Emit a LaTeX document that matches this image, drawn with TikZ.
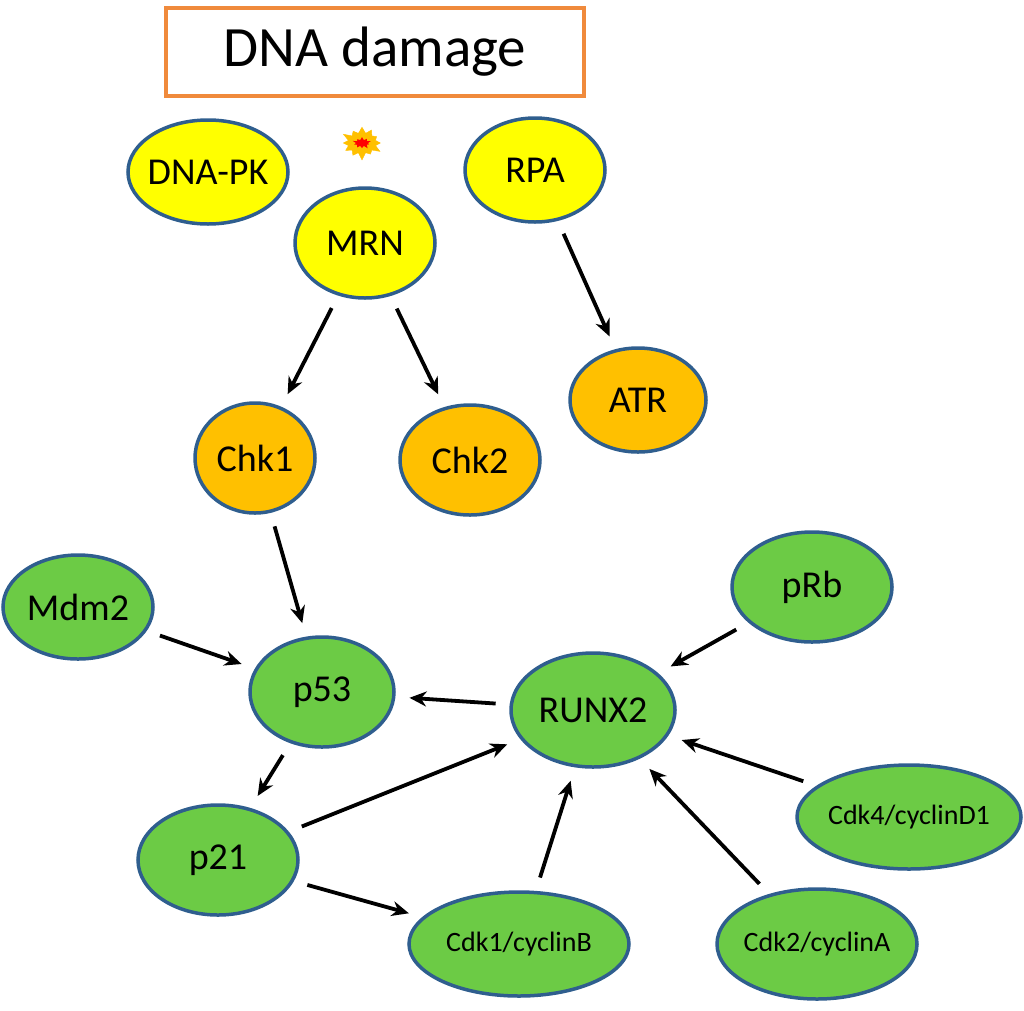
\documentclass[tikz,border=0pt]{standalone}
\usepackage{fontspec}
\setmainfont{Carlito}
\usetikzlibrary{shapes.geometric,shapes.symbols,arrows.meta}
\definecolor{yel}{HTML}{FFFF00}
\definecolor{org}{HTML}{FFC000}
\definecolor{grn}{HTML}{6CCB45}
\definecolor{bord}{HTML}{2F5E8E}
\definecolor{boxo}{HTML}{F08A3C}
\begin{document}
\begin{tikzpicture}[x=1pt,y=-1pt,
  el/.style={ellipse,draw=bord,line width=3.5pt,inner sep=-12pt,font=\fontsize{38}{38}\selectfont},
  sm/.style={font=\fontsize{28}{28}\selectfont},
  arr/.style={-{Stealth[length=17pt,width=15pt]},line width=3.8pt,shorten <=#1,shorten >=#1},
  arr/.default=14pt]
\useasboundingbox (0,0) rectangle (1024,1010);
\node[draw=boxo,line width=4.5pt,minimum width=418pt,minimum height=88pt,font=\fontsize{57}{57}\selectfont] (dd) at (375,52) {DNA damage};
\node[starburst,starburst points=12,starburst point height=8pt,fill=org,draw=org,minimum width=44pt,minimum height=36pt,inner sep=0pt] (star) at (362,143) {};
\node[starburst,starburst points=10,starburst point height=4pt,fill=red,minimum width=20pt,minimum height=14pt,inner sep=0pt] (star2) at (362,143) {};
\node[el,fill=yel,minimum width=160pt,minimum height=104pt] (dnapk) at (208,172) {DNA-PK};
\node[el,fill=yel,minimum width=140pt,minimum height=104pt] (rpa) at (535,170) {RPA};
\node[el,fill=yel,minimum width=140pt,minimum height=110pt] (mrn) at (365,243) {MRN};
\node[el,fill=org,minimum width=136pt,minimum height=104pt] (atr) at (638,400) {ATR};
\node[el,fill=org,minimum width=120pt,minimum height=110pt] (chk1) at (255,458) {Chk1};
\node[el,fill=org,minimum width=140pt,minimum height=110pt] (chk2) at (470,460) {Chk2};
\node[el,fill=grn,minimum width=150pt,minimum height=104pt] (mdm2) at (78,607) {Mdm2};
\node[el,fill=grn,minimum width=160pt,minimum height=110pt] (prb) at (812,587) {pRb};
\node[el,fill=grn,minimum width=144pt,minimum height=110pt] (p53) at (322,692) {p53};
\node[el,fill=grn,minimum width=164pt,minimum height=114pt] (runx) at (593,710) {RUNX2};
\node[el,fill=grn,minimum width=160pt,minimum height=110pt] (p21) at (218,860) {p21};
\node[el,sm,fill=grn,minimum width=224pt,minimum height=104pt] (cdk4) at (909,817) {Cdk4/cyclinD1};
\node[el,sm,fill=grn,minimum width=220pt,minimum height=104pt] (cdk1) at (519,944) {Cdk1/cyclinB};
\node[el,sm,fill=grn,minimum width=200pt,minimum height=110pt] (cdk2) at (817,944) {Cdk2/cyclinA};
\draw[arr] (mrn) -- (chk1);
\draw[arr] (mrn) -- (chk2);
\draw[arr] (rpa) -- (atr);
\draw[arr] (chk1) -- (p53);
\draw[arr] (mdm2) -- (p53);
\draw[arr] (runx) -- (p53);
\draw[arr] (p53) -- (p21);
\draw[arr] (p21) -- (runx);
\draw[arr] (p21) -- (cdk1);
\draw[arr] (cdk1) -- (runx);
\draw[arr] (cdk2) -- (runx);
\draw[arr] (cdk4) -- (runx);
\draw[arr] (prb) -- (runx);
\end{tikzpicture}
\end{document}
